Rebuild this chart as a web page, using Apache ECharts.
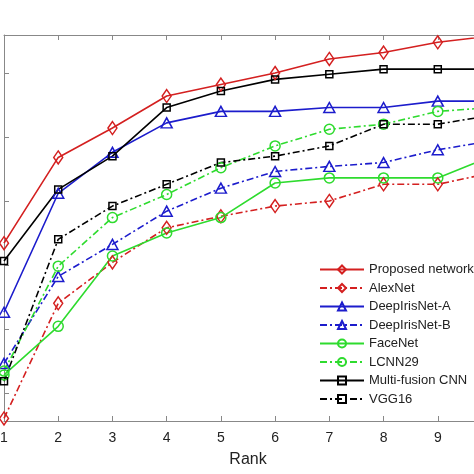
<!DOCTYPE html>
<html>
<head>
<meta charset="utf-8">
<script src="https://cdn.jsdelivr.net/npm/echarts@6/dist/echarts.min.js"></script>
<style>
  html, body { margin: 0; padding: 0; background: #fff; }
  #chart { width: 474px; height: 474px; }
</style>
</head>
<body>
<div id="chart"></div>
<script>
// rank 1..10 (rank 10 is cut off at the right edge)
const ranks = [1, 2, 3, 4, 5, 6, 7, 8, 9, 10];
const yTicks = [0.70, 0.75, 0.80, 0.85, 0.90, 0.95];

const proposed    = [0.817, 0.884, 0.907, 0.932, 0.941, 0.950, 0.961, 0.966, 0.974, 0.979];
const alexNet     = [0.680, 0.770, 0.802, 0.829, 0.838, 0.846, 0.850, 0.863, 0.863, 0.872];
const deepIrisA   = [0.763, 0.856, 0.888, 0.911, 0.920, 0.920, 0.923, 0.923, 0.928, 0.928];
const deepIrisB   = [0.723, 0.791, 0.816, 0.842, 0.860, 0.873, 0.877, 0.880, 0.890, 0.897];
const faceNet     = [0.714, 0.752, 0.807, 0.825, 0.837, 0.864, 0.868, 0.868, 0.868, 0.885];
const lcnn29      = [0.717, 0.799, 0.837, 0.855, 0.876, 0.893, 0.906, 0.910, 0.920, 0.923];
const multiFusion = [0.803, 0.859, 0.885, 0.923, 0.936, 0.945, 0.949, 0.953, 0.953, 0.953];
const vgg16       = [0.709, 0.820, 0.846, 0.863, 0.880, 0.885, 0.893, 0.910, 0.910, 0.917];

const RED = '#d42020', BLUE = '#1c1ccc', GREEN = '#2edb2e', BLACK = '#000000';
const dashDot = [7, 3, 2, 3];

function mkSeries(name, values, color, dashed, symbol, size) {
  return {
    name: name,
    type: 'line',
    data: values.map((v, i) => [ranks[i], v]),
    symbol: symbol,
    symbolSize: size,
    showAllSymbol: true,
    lineStyle: { color: color, width: 1.6, type: dashed ? dashDot : 'solid' },
    itemStyle: { color: 'rgba(255,255,255,0)', borderColor: color, borderWidth: 1.5 },
    emphasis: { disabled: true },
    animation: false
  };
}

const chart = echarts.init(document.getElementById('chart'));
chart.setOption({
  animation: false,
  grid: { left: 4, top: 35, height: 386, width: 488, outerBoundsMode: 'none', containLabel: false },
  legend: {
    orient: 'vertical',
    left: 319,
    top: 263,
    padding: 0,
    itemWidth: 44,
    itemHeight: 10,
    itemGap: 5.5,
    textStyle: { fontFamily: 'Liberation Sans', fontSize: 13, color: '#222' },
    data: ['Proposed network', 'AlexNet', 'DeepIrisNet-A', 'DeepIrisNet-B',
           'FaceNet', 'LCNN29', 'Multi-fusion CNN', 'VGG16']
  },
  xAxis: [{
    type: 'value', min: 1, max: 10, interval: 1,
    name: 'Rank', nameLocation: 'middle', nameGap: 31,
    nameTextStyle: { fontFamily: 'Liberation Sans', fontSize: 16, color: '#222' },
    axisLine: { lineStyle: { color: '#888', width: 1 } },
    axisTick: { inside: true, length: 5, lineStyle: { color: '#888' } },
    axisLabel: { margin: 10, fontFamily: 'Liberation Sans', fontSize: 14, color: '#222' },
    splitLine: { show: false }
  }, {
    type: 'value', min: 1, max: 10, interval: 1, position: 'top',
    axisLine: { lineStyle: { color: '#888', width: 1 } },
    axisTick: { inside: true, length: 5, lineStyle: { color: '#888' } },
    axisLabel: { show: false },
    splitLine: { show: false }
  }],
  yAxis: {
    type: 'value', min: 0.678, max: 0.9797,
    axisLine: { show: true, lineStyle: { color: '#888', width: 1 } },
    axisTick: { show: true, inside: true, length: 5, customValues: yTicks, lineStyle: { color: '#888' } },
    axisLabel: { show: false },
    splitLine: { show: false }
  },
  series: [
    mkSeries('Proposed network', proposed, RED, false, 'diamond', [9, 13]),
    mkSeries('AlexNet', alexNet, RED, true, 'diamond', [9, 13]),
    mkSeries('DeepIrisNet-A', deepIrisA, BLUE, false, 'triangle', [11, 10]),
    mkSeries('DeepIrisNet-B', deepIrisB, BLUE, true, 'triangle', [11, 10]),
    mkSeries('FaceNet', faceNet, GREEN, false, 'circle', 10),
    mkSeries('LCNN29', lcnn29, GREEN, true, 'circle', 10),
    mkSeries('Multi-fusion CNN', multiFusion, BLACK, false, 'rect', 7),
    mkSeries('VGG16', vgg16, BLACK, true, 'rect', 7)
  ]
});
</script>
</body>
</html>
